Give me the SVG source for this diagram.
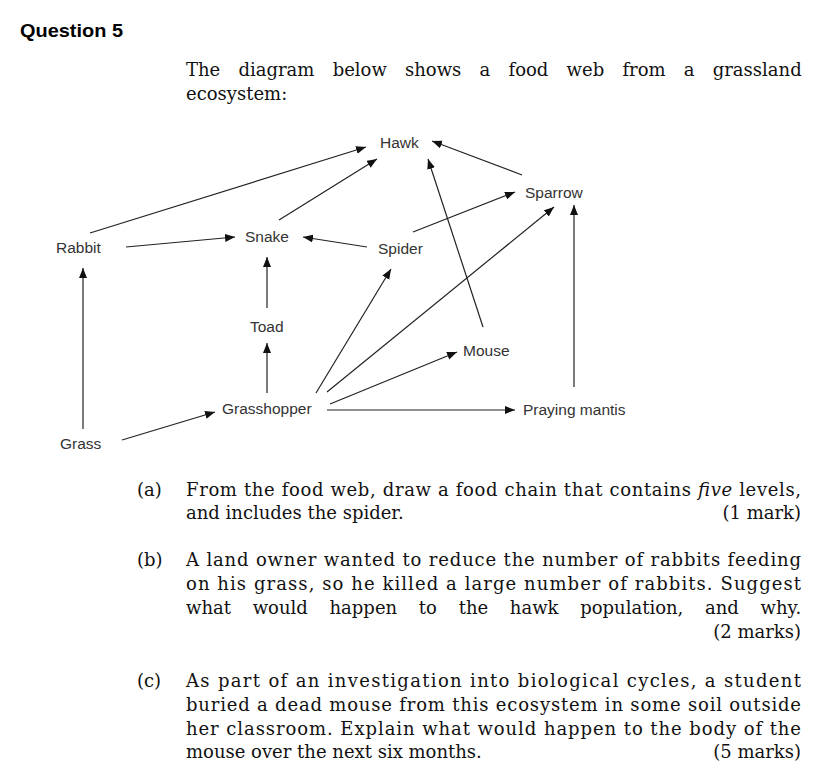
<svg xmlns="http://www.w3.org/2000/svg" width="830" height="769" viewBox="0 0 830 769">
<style>
.hd{font-family:"Liberation Sans",Arial,sans-serif;font-weight:bold;font-size:19px;fill:#000}
.body{font-family:"DejaVu Serif","Liberation Serif",serif;font-size:18px;fill:#111}
.lab{font-family:"Liberation Sans",Arial,sans-serif;font-size:15.5px;fill:#333}
.c line{stroke:#222;stroke-width:1.2;marker-end:url(#ah)}
</style>
<defs>
<marker id="ah" markerUnits="userSpaceOnUse" markerWidth="11" markerHeight="9" refX="10" refY="4" orient="auto">
<path d="M0,0 L10,4 L0,8 z" fill="#111"/>
</marker>
</defs>
<rect width="830" height="769" fill="#fff"/>
<text class="hd" x="20" y="37" textLength="103" lengthAdjust="spacingAndGlyphs">Question 5</text>
<text class="body" x="186" y="76" word-spacing="12.5">The diagram below shows a food web from a grassland</text>
<text class="body" x="186" y="100">ecosystem:</text>

<g class="c" id="connectors">
<line x1="90" y1="233" x2="366" y2="147"/>
<line x1="279" y1="220" x2="377" y2="159"/>
<line x1="126" y1="247" x2="235" y2="237"/>
<line x1="367" y1="247" x2="303" y2="237"/>
<line x1="522" y1="175" x2="432" y2="141"/>
<line x1="483" y1="327" x2="428" y2="159"/>
<line x1="413" y1="232" x2="515" y2="192"/>
<line x1="327" y1="392" x2="554" y2="207"/>
<line x1="574" y1="387" x2="574" y2="205"/>
<line x1="316" y1="393" x2="391" y2="269"/>
<line x1="330" y1="404" x2="457" y2="352"/>
<line x1="327" y1="410" x2="515" y2="410"/>
<line x1="122" y1="440" x2="215" y2="412"/>
<line x1="83" y1="429" x2="83" y2="268"/>
<line x1="267" y1="393" x2="267" y2="343"/>
<line x1="267" y1="308" x2="267" y2="257"/>
</g>

<g id="hawk"><text class="lab" x="380" y="148">Hawk</text></g>
<g id="sparrow"><text class="lab" x="525" y="198">Sparrow</text></g>
<g id="rabbit"><text class="lab" x="56" y="253">Rabbit</text></g>
<g id="snake"><text class="lab" x="245" y="242">Snake</text></g>
<g id="spider"><text class="lab" x="378" y="254">Spider</text></g>
<g id="toad"><text class="lab" x="250" y="332">Toad</text></g>
<g id="mouse"><text class="lab" x="463" y="356">Mouse</text></g>
<g id="grasshopper"><text class="lab" x="222" y="414">Grasshopper</text></g>
<g id="mantis"><text class="lab" x="523" y="415">Praying mantis</text></g>
<g id="grass"><text class="lab" x="60" y="449">Grass</text></g>

<text class="body" x="137" y="496">(a)</text>
<text class="body" x="186" y="496" textLength="615" lengthAdjust="spacing">From the food web, draw a food chain that contains <tspan font-style="italic">five</tspan> levels,</text>
<text class="body" x="186" y="519">and includes the spider.</text>
<text class="body" x="801" y="519" text-anchor="end">(1 mark)</text>

<text class="body" x="137" y="566">(b)</text>
<text class="body" x="186" y="566" textLength="615" lengthAdjust="spacing">A land owner wanted to reduce the number of rabbits feeding</text>
<text class="body" x="186" y="590" textLength="615" lengthAdjust="spacing">on his grass, so he killed a large number of rabbits. Suggest</text>
<text class="body" x="186" y="614" word-spacing="16">what would happen to the hawk population, and why.</text>
<text class="body" x="801" y="638" text-anchor="end">(2 marks)</text>

<text class="body" x="137" y="687">(c)</text>
<text class="body" x="186" y="687" textLength="615" lengthAdjust="spacing">As part of an investigation into biological cycles, a student</text>
<text class="body" x="186" y="711" textLength="615" lengthAdjust="spacing">buried a dead mouse from this ecosystem in some soil outside</text>
<text class="body" x="186" y="735" textLength="615" lengthAdjust="spacing">her classroom. Explain what would happen to the body of the</text>
<text class="body" x="186" y="758">mouse over the next six months.</text>
<text class="body" x="801" y="758" text-anchor="end">(5 marks)</text>
</svg>
